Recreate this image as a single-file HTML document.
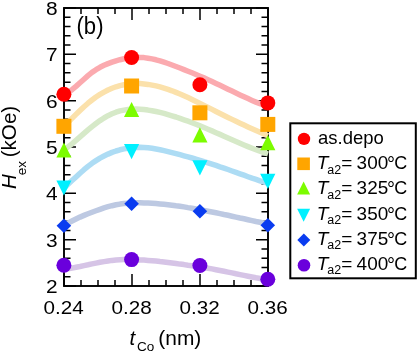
<!DOCTYPE html>
<html lang="en"><head><meta charset="utf-8"><title>Hex vs tCo</title>
<style>html,body{margin:0;padding:0;background:#fff}svg{display:block}text{font-family:'Liberation Sans', sans-serif;fill:#000}</style>
</head><body>
<svg width="417" height="353" viewBox="0 0 417 353">
<rect x="0" y="0" width="417" height="353" fill="#fff"/>
<rect x="64.0" y="8.0" width="204.0" height="278.0" fill="none" stroke="#000" stroke-width="1.9"/>
<path d="M64.00 286.0 v-12 M64.00 8.0 v12 M81.00 286.0 v-6 M81.00 8.0 v6 M98.00 286.0 v-6 M98.00 8.0 v6 M115.00 286.0 v-6 M115.00 8.0 v6 M132.00 286.0 v-12 M132.00 8.0 v12 M149.00 286.0 v-6 M149.00 8.0 v6 M166.00 286.0 v-6 M166.00 8.0 v6 M183.00 286.0 v-6 M183.00 8.0 v6 M200.00 286.0 v-12 M200.00 8.0 v12 M217.00 286.0 v-6 M217.00 8.0 v6 M234.00 286.0 v-6 M234.00 8.0 v6 M251.00 286.0 v-6 M251.00 8.0 v6 M268.00 286.0 v-12 M268.00 8.0 v12 M64.0 286.00 h12 M268.0 286.00 h-12 M64.0 276.73 h6.5 M268.0 276.73 h-6.5 M64.0 267.47 h6.5 M268.0 267.47 h-6.5 M64.0 258.20 h6.5 M268.0 258.20 h-6.5 M64.0 248.93 h6.5 M268.0 248.93 h-6.5 M64.0 239.67 h12 M268.0 239.67 h-12 M64.0 230.40 h6.5 M268.0 230.40 h-6.5 M64.0 221.13 h6.5 M268.0 221.13 h-6.5 M64.0 211.87 h6.5 M268.0 211.87 h-6.5 M64.0 202.60 h6.5 M268.0 202.60 h-6.5 M64.0 193.33 h12 M268.0 193.33 h-12 M64.0 184.07 h6.5 M268.0 184.07 h-6.5 M64.0 174.80 h6.5 M268.0 174.80 h-6.5 M64.0 165.53 h6.5 M268.0 165.53 h-6.5 M64.0 156.27 h6.5 M268.0 156.27 h-6.5 M64.0 147.00 h12 M268.0 147.00 h-12 M64.0 137.73 h6.5 M268.0 137.73 h-6.5 M64.0 128.47 h6.5 M268.0 128.47 h-6.5 M64.0 119.20 h6.5 M268.0 119.20 h-6.5 M64.0 109.93 h6.5 M268.0 109.93 h-6.5 M64.0 100.67 h12 M268.0 100.67 h-12 M64.0 91.40 h6.5 M268.0 91.40 h-6.5 M64.0 82.13 h6.5 M268.0 82.13 h-6.5 M64.0 72.87 h6.5 M268.0 72.87 h-6.5 M64.0 63.60 h6.5 M268.0 63.60 h-6.5 M64.0 54.33 h12 M268.0 54.33 h-12 M64.0 45.07 h6.5 M268.0 45.07 h-6.5 M64.0 35.80 h6.5 M268.0 35.80 h-6.5 M64.0 26.53 h6.5 M268.0 26.53 h-6.5 M64.0 17.27 h6.5 M268.0 17.27 h-6.5 M64.0 8.00 h12 M268.0 8.00 h-12" stroke="#000" stroke-width="1.5" fill="none"/>
<g fill="none" stroke-width="5.5" stroke-linecap="butt" stroke-linejoin="round">
<path d="M64.0 94.3 L68.0 92.4 L72.0 89.7 L76.0 86.4 L80.0 82.8 L84.0 79.2 L88.0 75.6 L92.0 72.4 L96.0 69.7 L100.0 67.3 L104.0 65.3 L108.0 63.6 L112.0 62.1 L116.0 60.8 L120.0 59.7 L124.0 58.8 L128.0 58.1 L132.0 57.6 L136.0 57.4 L140.0 57.4 L144.0 57.6 L148.0 58.2 L152.0 58.9 L156.0 59.8 L160.0 60.9 L164.0 62.2 L168.0 63.5 L172.0 65.0 L176.0 66.5 L180.0 68.0 L184.0 69.6 L188.0 71.2 L192.0 72.8 L196.0 74.5 L200.0 76.2 L204.0 77.9 L208.0 79.7 L212.0 81.6 L216.0 83.4 L220.0 85.3 L224.0 87.2 L228.0 89.2 L232.0 91.1 L236.0 93.0 L240.0 94.9 L244.0 96.8 L248.0 98.6 L252.0 100.4 L256.0 102.1 L260.0 103.8 L264.0 105.3 L268.0 106.8" stroke="#fbaaaf"/>
<path d="M64.0 126.4 L68.0 122.4 L72.0 118.4 L76.0 114.4 L80.0 110.5 L84.0 106.7 L88.0 103.2 L92.0 100.0 L96.0 97.0 L100.0 94.4 L104.0 92.1 L108.0 90.0 L112.0 88.3 L116.0 86.8 L120.0 85.6 L124.0 84.7 L128.0 84.1 L132.0 83.7 L136.0 83.5 L140.0 83.6 L144.0 83.9 L148.0 84.4 L152.0 85.1 L156.0 85.9 L160.0 86.9 L164.0 88.1 L168.0 89.4 L172.0 90.8 L176.0 92.4 L180.0 94.0 L184.0 95.8 L188.0 97.6 L192.0 99.5 L196.0 101.4 L200.0 103.4 L204.0 105.4 L208.0 107.4 L212.0 109.4 L216.0 111.5 L220.0 113.5 L224.0 115.5 L228.0 117.4 L232.0 119.4 L236.0 121.3 L240.0 123.2 L244.0 125.1 L248.0 127.0 L252.0 128.8 L256.0 130.6 L260.0 132.3 L264.0 134.1 L268.0 135.7" stroke="#fbe1ab"/>
<path d="M64.0 149.8 L68.0 146.9 L72.0 143.8 L76.0 140.4 L80.0 136.9 L84.0 133.4 L88.0 129.9 L92.0 126.6 L96.0 123.5 L100.0 120.6 L104.0 118.0 L108.0 115.7 L112.0 113.8 L116.0 112.2 L120.0 110.9 L124.0 110.1 L128.0 109.5 L132.0 109.2 L136.0 109.1 L140.0 109.3 L144.0 109.6 L148.0 110.1 L152.0 110.7 L156.0 111.5 L160.0 112.4 L164.0 113.4 L168.0 114.6 L172.0 115.8 L176.0 117.0 L180.0 118.4 L184.0 119.8 L188.0 121.2 L192.0 122.7 L196.0 124.3 L200.0 125.9 L204.0 127.5 L208.0 129.2 L212.0 130.9 L216.0 132.7 L220.0 134.4 L224.0 136.2 L228.0 138.0 L232.0 139.8 L236.0 141.5 L240.0 143.3 L244.0 145.0 L248.0 146.6 L252.0 148.2 L256.0 149.8 L260.0 151.3 L264.0 152.7 L268.0 154.0" stroke="#d6e9c8"/>
<path d="M64.0 188.0 L68.0 184.3 L72.0 180.6 L76.0 176.9 L80.0 173.2 L84.0 169.7 L88.0 166.4 L92.0 163.3 L96.0 160.6 L100.0 158.1 L104.0 156.0 L108.0 154.1 L112.0 152.4 L116.0 151.0 L120.0 149.8 L124.0 148.9 L128.0 148.2 L132.0 147.7 L136.0 147.4 L140.0 147.3 L144.0 147.5 L148.0 147.8 L152.0 148.3 L156.0 149.0 L160.0 149.7 L164.0 150.6 L168.0 151.6 L172.0 152.6 L176.0 153.6 L180.0 154.7 L184.0 155.8 L188.0 156.9 L192.0 158.0 L196.0 159.2 L200.0 160.3 L204.0 161.6 L208.0 162.8 L212.0 164.1 L216.0 165.4 L220.0 166.8 L224.0 168.1 L228.0 169.5 L232.0 171.0 L236.0 172.4 L240.0 173.8 L244.0 175.2 L248.0 176.7 L252.0 178.1 L256.0 179.4 L260.0 180.8 L264.0 182.1 L268.0 183.3" stroke="#addcf4"/>
<path d="M64.0 225.5 L68.0 223.1 L72.0 221.0 L76.0 219.0 L80.0 217.1 L84.0 215.4 L88.0 213.8 L92.0 212.2 L96.0 210.7 L100.0 209.3 L104.0 207.9 L108.0 206.7 L112.0 205.7 L116.0 204.8 L120.0 204.1 L124.0 203.6 L128.0 203.2 L132.0 202.9 L136.0 202.8 L140.0 202.8 L144.0 202.9 L148.0 203.0 L152.0 203.2 L156.0 203.5 L160.0 203.9 L164.0 204.3 L168.0 204.7 L172.0 205.2 L176.0 205.8 L180.0 206.3 L184.0 206.9 L188.0 207.6 L192.0 208.2 L196.0 208.9 L200.0 209.7 L204.0 210.4 L208.0 211.2 L212.0 212.0 L216.0 212.8 L220.0 213.6 L224.0 214.5 L228.0 215.3 L232.0 216.2 L236.0 217.1 L240.0 218.0 L244.0 218.8 L248.0 219.7 L252.0 220.6 L256.0 221.5 L260.0 222.3 L264.0 223.2 L268.0 224.0" stroke="#bdc9e2"/>
<path d="M64.0 269.5 L68.0 268.8 L72.0 268.1 L76.0 267.3 L80.0 266.5 L84.0 265.6 L88.0 264.8 L92.0 263.9 L96.0 263.1 L100.0 262.3 L104.0 261.6 L108.0 261.0 L112.0 260.4 L116.0 260.0 L120.0 259.8 L124.0 259.6 L128.0 259.5 L132.0 259.6 L136.0 259.7 L140.0 259.9 L144.0 260.1 L148.0 260.4 L152.0 260.7 L156.0 261.1 L160.0 261.6 L164.0 262.0 L168.0 262.5 L172.0 263.0 L176.0 263.5 L180.0 264.1 L184.0 264.6 L188.0 265.2 L192.0 265.7 L196.0 266.3 L200.0 266.9 L204.0 267.6 L208.0 268.2 L212.0 268.9 L216.0 269.7 L220.0 270.5 L224.0 271.3 L228.0 272.1 L232.0 272.9 L236.0 273.8 L240.0 274.6 L244.0 275.4 L248.0 276.2 L252.0 277.0 L256.0 277.8 L260.0 278.5 L264.0 279.2 L268.0 279.8" stroke="#d6c4e6"/>
</g>
<circle cx="63.9" cy="94.2" r="7.5" fill="#ff0000"/>
<circle cx="131.6" cy="57.5" r="7.5" fill="#ff0000"/>
<circle cx="199.9" cy="84.7" r="7.5" fill="#ff0000"/>
<circle cx="267.8" cy="102.9" r="7.5" fill="#ff0000"/>
<rect x="56.4" y="118.8" width="15" height="15" fill="#ffa500"/>
<rect x="124.1" y="78.5" width="15" height="15" fill="#ffa500"/>
<rect x="192.4" y="105.3" width="15" height="15" fill="#ffa500"/>
<rect x="260.3" y="116.9" width="15" height="15" fill="#ffa500"/>
<path d="M56.4 157.6 L71.5 157.6 L63.9 142.4Z" fill="#7cfc00"/>
<path d="M124.0 117.0 L139.2 117.0 L131.6 102.0Z" fill="#7cfc00"/>
<path d="M192.3 142.4 L207.5 142.4 L199.9 127.3Z" fill="#7cfc00"/>
<path d="M260.2 150.2 L275.4 150.2 L267.8 135.1Z" fill="#7cfc00"/>
<path d="M56.4 180.4 L71.5 180.4 L63.9 195.6Z" fill="#00f0ff"/>
<path d="M124.0 144.1 L139.2 144.1 L131.6 159.2Z" fill="#00f0ff"/>
<path d="M192.3 160.3 L207.5 160.3 L199.9 175.5Z" fill="#00f0ff"/>
<path d="M260.2 173.8 L275.4 173.8 L267.8 188.9Z" fill="#00f0ff"/>
<path d="M56.6 225.8 L63.9 218.5 L71.2 225.8 L63.9 233.1Z" fill="#0a3cf0"/>
<path d="M124.3 203.7 L131.6 196.4 L138.9 203.7 L131.6 211.0Z" fill="#0a3cf0"/>
<path d="M192.6 211.2 L199.9 203.9 L207.2 211.2 L199.9 218.5Z" fill="#0a3cf0"/>
<path d="M260.5 225.3 L267.8 218.0 L275.1 225.3 L267.8 232.6Z" fill="#0a3cf0"/>
<circle cx="63.9" cy="265.3" r="7.5" fill="#6a00dc"/>
<circle cx="131.6" cy="259.6" r="7.5" fill="#6a00dc"/>
<circle cx="199.9" cy="265.5" r="7.5" fill="#6a00dc"/>
<circle cx="267.8" cy="279.2" r="7.5" fill="#6a00dc"/>
<text transform="translate(51.8 292.8) scale(1.16 1)" font-size="18" text-anchor="middle">2</text>
<text transform="translate(51.8 246.5) scale(1.16 1)" font-size="18" text-anchor="middle">3</text>
<text transform="translate(51.8 200.1) scale(1.16 1)" font-size="18" text-anchor="middle">4</text>
<text transform="translate(51.8 153.8) scale(1.16 1)" font-size="18" text-anchor="middle">5</text>
<text transform="translate(51.8 107.5) scale(1.16 1)" font-size="18" text-anchor="middle">6</text>
<text transform="translate(51.8 61.1) scale(1.16 1)" font-size="18" text-anchor="middle">7</text>
<text transform="translate(51.8 14.8) scale(1.16 1)" font-size="18" text-anchor="middle">8</text>
<text x="63.7" y="314.0" font-size="18.5" text-anchor="middle" textLength="40.2" lengthAdjust="spacingAndGlyphs">0.24</text>
<text x="131.7" y="314.0" font-size="18.5" text-anchor="middle" textLength="40.2" lengthAdjust="spacingAndGlyphs">0.28</text>
<text x="199.7" y="314.0" font-size="18.5" text-anchor="middle" textLength="40.2" lengthAdjust="spacingAndGlyphs">0.32</text>
<text x="267.7" y="314.0" font-size="18.5" text-anchor="middle" textLength="40.2" lengthAdjust="spacingAndGlyphs">0.36</text>
<text x="76.5" y="33.8" font-size="23" text-anchor="start" textLength="27" lengthAdjust="spacingAndGlyphs">(b)</text>
<text y="345" font-size="20.5"><tspan x="129.6" font-style="italic">t</tspan><tspan x="137" font-size="13" dy="6.2" textLength="17.3" lengthAdjust="spacingAndGlyphs">Co</tspan><tspan x="158.3" dy="-6.2" textLength="43" lengthAdjust="spacingAndGlyphs">(nm)</tspan></text>
<text transform="translate(16.4 0) rotate(-90)" y="0" font-size="20.5"><tspan x="-189" font-style="italic">H</tspan><tspan x="-175.3" font-size="13" dy="9.2" textLength="14.2" lengthAdjust="spacingAndGlyphs">ex</tspan><tspan x="-157.3" dy="-9.2" textLength="51.5" lengthAdjust="spacingAndGlyphs">(kOe)</tspan></text>
<rect x="290.3" y="123.3" width="125.5" height="155" fill="#fff" stroke="#000" stroke-width="2"/>
<circle cx="304.0" cy="138.89999999999998" r="6.2" fill="#ff0000"/>
<rect x="297.3" y="157.5" width="12.6" height="12.6" fill="#ffa500"/>
<path d="M297.1 194.5 L310.1 194.5 L303.6 181.5Z" fill="#7cfc00"/>
<path d="M297.1 208.8 L310.1 208.8 L303.6 221.8Z" fill="#00f0ff"/>
<path d="M297.3 240.1 L303.8 233.6 L310.3 240.1 L303.8 246.6Z" fill="#0a3cf0"/>
<circle cx="304.0" cy="265.3" r="6.3" fill="#6a00dc"/>
<text x="318" y="143.6" font-size="19" textLength="65.8" lengthAdjust="spacingAndGlyphs">as.depo</text>
<text y="169" font-size="19"><tspan x="316.8" font-style="italic">T</tspan><tspan x="327.2" font-size="12.5" dy="4.5">a2</tspan><tspan x="341.2" dy="-4.5">=</tspan><tspan x="356.6" textLength="31.6" lengthAdjust="spacingAndGlyphs">300</tspan><tspan x="386.9" font-size="20" dy="2.2">°</tspan><tspan x="394.3" dy="-2.2" textLength="13" lengthAdjust="spacingAndGlyphs">C</tspan></text>
<text y="194.1" font-size="19"><tspan x="316.8" font-style="italic">T</tspan><tspan x="327.2" font-size="12.5" dy="4.5">a2</tspan><tspan x="341.2" dy="-4.5">=</tspan><tspan x="356.6" textLength="31.6" lengthAdjust="spacingAndGlyphs">325</tspan><tspan x="386.9" font-size="20" dy="2.2">°</tspan><tspan x="394.3" dy="-2.2" textLength="13" lengthAdjust="spacingAndGlyphs">C</tspan></text>
<text y="219.8" font-size="19"><tspan x="316.8" font-style="italic">T</tspan><tspan x="327.2" font-size="12.5" dy="4.5">a2</tspan><tspan x="341.2" dy="-4.5">=</tspan><tspan x="356.6" textLength="31.6" lengthAdjust="spacingAndGlyphs">350</tspan><tspan x="386.9" font-size="20" dy="2.2">°</tspan><tspan x="394.3" dy="-2.2" textLength="13" lengthAdjust="spacingAndGlyphs">C</tspan></text>
<text y="244.9" font-size="19"><tspan x="316.8" font-style="italic">T</tspan><tspan x="327.2" font-size="12.5" dy="4.5">a2</tspan><tspan x="341.2" dy="-4.5">=</tspan><tspan x="356.6" textLength="31.6" lengthAdjust="spacingAndGlyphs">375</tspan><tspan x="386.9" font-size="20" dy="2.2">°</tspan><tspan x="394.3" dy="-2.2" textLength="13" lengthAdjust="spacingAndGlyphs">C</tspan></text>
<text y="269.5" font-size="19"><tspan x="316.8" font-style="italic">T</tspan><tspan x="327.2" font-size="12.5" dy="4.5">a2</tspan><tspan x="341.2" dy="-4.5">=</tspan><tspan x="356.6" textLength="31.6" lengthAdjust="spacingAndGlyphs">400</tspan><tspan x="386.9" font-size="20" dy="2.2">°</tspan><tspan x="394.3" dy="-2.2" textLength="13" lengthAdjust="spacingAndGlyphs">C</tspan></text>
</svg>
</body></html>
